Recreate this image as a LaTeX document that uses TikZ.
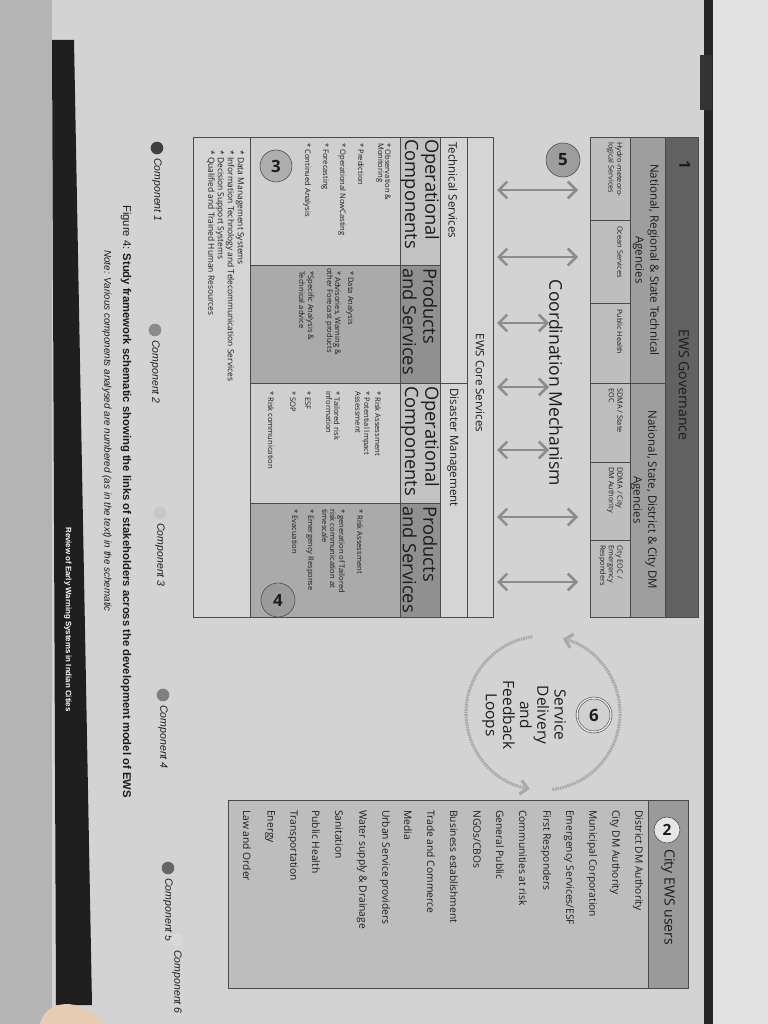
\documentclass[tikz,border=0pt]{standalone}
\usepackage{fontspec}
\setmainfont{Open Sans}
\newfontfamily\capfont{Liberation Sans}
\usetikzlibrary{arrows.meta}
\definecolor{pagec}{HTML}{D3D3D3}
\definecolor{leftc}{HTML}{B4B4B4}
\definecolor{rightc}{HTML}{E2E2E2}
\definecolor{govc}{HTML}{626262}
\definecolor{bandb}{HTML}{9E9E9E}
\definecolor{bandc}{HTML}{BEBEBE}
\definecolor{opc}{HTML}{C2C2C2}
\definecolor{prc}{HTML}{909090}
\definecolor{cellop}{HTML}{CFCFCF}
\definecolor{cellpr}{HTML}{AAAAAA}
\definecolor{arrc}{HTML}{8C8C8C}
\definecolor{linec}{HTML}{4A4A4A}
\definecolor{txt}{HTML}{1C1C1C}
\definecolor{userh}{HTML}{9A9A9A}
\definecolor{userb}{HTML}{BDBDBD}
\definecolor{loopc}{HTML}{A8A8A8}
\tikzset{
  lbl/.style={rotate=-90, inner sep=0pt, text=txt},
  bd/.style={draw=linec, line width=0.5pt},
  arr/.style={draw=arrc, line width=1.8pt, {Straight Barb[length=6pt,width=12pt]}-{Straight Barb[length=6pt,width=12pt]}},
  numc/.style={circle, draw=linec, line width=0.4pt, inner sep=0pt, text=txt, font=\fontsize{12}{12}\selectfont\bfseries},
  item/.style={lbl, anchor=west, font=\fontsize{5.4}{6}\selectfont},
  user/.style={lbl, anchor=west, font=\fontsize{7.3}{8}\selectfont},
  head/.style={lbl, anchor=west, align=left, font=\fontsize{13}{14.5}\selectfont},
  sub/.style={lbl, anchor=north west, align=left, font=\fontsize{5.2}{6}\selectfont},
  legc/.style={circle, inner sep=0pt, minimum size=9pt},
  legt/.style={lbl, anchor=west, font=\capfont\fontsize{7.5}{8}\selectfont\itshape},
  loop/.style={draw=loopc, line width=2.2pt, dash pattern=on 1.2pt off 0.6pt, -{Straight Barb[length=5pt,width=10pt]}}
}
\begin{document}
\begin{tikzpicture}[x=0.025cm, y=-0.025cm]
\useasboundingbox (0,0) rectangle (768,1024);
% photo background
\fill[leftc] (0,0) rectangle (52,1024);
\fill[pagec] (52,0) rectangle (706,1024);
\fill[rightc] (713,0) rectangle (768,1024);
\fill[black!85] (704,0) rectangle (713,1024);
\fill[black!80] (700,55) rectangle (712,110);
\fill[black!88] (52,40) -- (74,40) -- (92,1005) -- (56,1005) -- cycle;
\node[lbl, anchor=east, text=white, font=\capfont\fontsize{5.6}{7}\selectfont\bfseries] (runhead) at (68,712) {Review of Early Warning Systems in Indian Cities};
\fill[brown!40!white] (40,1024) .. controls (45,1000) and (80,995) .. (105,1024) -- cycle;

% ---------- component 1 : governance ----------
\fill[govc] (665,137) rectangle (698,617);
\draw[bd] (665,137) rectangle (698,617);
\fill[bandb] (630,137) rectangle (665,617);
\draw[bd] (630,137) rectangle (665,383);
\draw[bd] (630,383) rectangle (665,617);
\fill[bandc] (590,137) rectangle (630,617);
\draw[bd] (590,137) rectangle (630,220);
\draw[bd] (590,220) rectangle (630,303);
\draw[bd] (590,303) rectangle (630,383);
\draw[bd] (590,383) rectangle (630,462);
\draw[bd] (590,462) rectangle (630,540);
\draw[bd] (590,540) rectangle (630,617);
\node[lbl, font=\fontsize{11}{12}\selectfont\bfseries] (one) at (685,165) {1};
\node[lbl, font=\fontsize{10}{12}\selectfont] (gov) at (684,385) {EWS Governance};
\node[lbl, align=center, font=\fontsize{8.2}{10.5}\selectfont] (natA) at (646,260) {National, Regional \& State Technical\\Agencies};
\node[lbl, align=center, font=\fontsize{8.2}{10.5}\selectfont] (natB) at (644,500) {National, State, District \& City DM\\Agencies};
\node[sub] (hydro) at (623,142) {Hydro-meteoro-\\logical Services};
\node[sub] (ocean) at (623,226) {Ocean Services};
\node[sub] (pubh) at (623,309) {Public Health};
\node[sub] (sdma) at (623,388) {SDMA / State\\EOC};
\node[sub] (ddma) at (623,467) {DDMA / City\\DM Authority};
\node[sub] (cityeoc) at (623,545) {City EOC /\\Emergency\\Responders};

% ---------- component 5 : coordination ----------
\node[numc, fill=arrc!85, minimum size=34*0.025cm] (five) at (563,160) {5};
\node[lbl, font=\fontsize{12.5}{14}\selectfont] (coord) at (556,383) {Coordination Mechanism};
\foreach \i/\y/\t in {1/190/578, 2/257/578, 3/323/549, 4/387/549, 5/450/549, 6/517/578, 7/582/578}{
  \coordinate (at\i) at (\t,\y);
  \coordinate (ab\i) at (497,\y);
  \draw[arr] (ab\i) -- (at\i);
}

% ---------- component 3 / 4 : core services ----------
\fill[pagec!96!white] (193,137) rectangle (493,617);
\fill[opc] (400,137) rectangle (440,265);
\fill[prc] (400,265) rectangle (440,383);
\fill[opc] (400,383) rectangle (440,503);
\fill[prc] (400,503) rectangle (440,617);
\fill[cellop] (250,137) rectangle (400,265);
\fill[cellpr] (250,265) rectangle (400,383);
\fill[cellop] (250,383) rectangle (400,503);
\fill[cellpr] (250,503) rectangle (400,617);
\draw[bd] (193,137) rectangle (493,617);
\draw[bd] (467,137) -- (467,617);
\draw[bd] (440,137) -- (440,617);
\draw[bd] (440,383) -- (467,383);
\draw[bd] (400,137) -- (400,617);
\draw[bd] (250,137) -- (250,617);
\draw[bd] (250,265) -- (440,265);
\draw[bd] (250,383) -- (440,383);
\draw[bd] (250,503) -- (440,503);
\node[lbl, font=\fontsize{8.2}{10}\selectfont] (core) at (480,383) {EWS Core Services};
\node[lbl, anchor=west, font=\fontsize{8.2}{10}\selectfont] (techs) at (453,142) {Technical Services};
\node[lbl, anchor=west, font=\fontsize{8.2}{10}\selectfont] (dism) at (453,388) {Disaster Management};
\node[head] (h1) at (420,139) {Operational\\Components};
\node[head] (h2) at (420,268) {Products\\and Services};
\node[head] (h3) at (420,386) {Operational\\Components};
\node[head] (h4) at (420,506) {Products\\and Services};
% technical services - operational components
\node[item] (t1) at (388,143) {* Observation \&};
\node[item] (t1b) at (380,143) {Monitoring};
\node[item] (t2) at (361,143) {* Prediction};
\node[item] (t3) at (342,143) {* Operational NowCasting};
\node[item] (t4) at (325,143) {* Forecasting};
\node[item] (t5) at (307,143) {* Continued Analysis};
\node[numc, fill=cellpr!95, minimum size=32*0.025cm] (three) at (276,166) {3};
% technical services - products
\node[item] (p1) at (350,271) {* Data Analysis};
\node[item] (p2) at (337,271) {* Advisories, Warning \&};
\node[item] (p2b) at (329,268) {other Forecast products};
\node[item] (p3) at (310,271) {*Specific Analysis \&};
\node[item] (p3b) at (302,271) {Technical advice};
% disaster management - operational components
\node[item] (d1) at (378,391) {* Risk Assessment};
\node[item] (d2) at (366,391) {* Potential Impact};
\node[item] (d2b) at (358,391) {Assessment};
\node[item] (d3) at (337,391) {* Tailored risk};
\node[item] (d3b) at (329,391) {information};
\node[item] (d4) at (308,391) {* ESF};
\node[item] (d5) at (293,391) {* SOP};
\node[item] (d6) at (271,391) {* Risk communication};
% disaster management - products
\node[item] (q1) at (360,509) {* Risk Assessment};
\node[item] (q2) at (341,509) {* generation of Tailored};
\node[item] (q2b) at (333,509) {risk communication at};
\node[item] (q2c) at (325,509) {timescale};
\node[item] (q3) at (310,509) {* Emergency Response};
\node[item] (q4) at (295,509) {* Evacuation};
\node[numc, fill=prc!90, minimum size=34*0.025cm] (four) at (278,600) {4};
% systems strip
\node[item, font=\fontsize{6}{7}\selectfont] (s1) at (240,150) {* Data Management Systems};
\node[item, font=\fontsize{6}{7}\selectfont] (s2) at (230,150) {* Information Technology and Telecommunication Services};
\node[item, font=\fontsize{6}{7}\selectfont] (s3) at (220,150) {* Decision Support Systems};
\node[item, font=\fontsize{6}{7}\selectfont] (s4) at (211,150) {* Qualified and Trained Human Resources};

% ---------- component 6 : loops ----------
\draw[loop] (543,713) ++(83:77) arc[start angle=83, end angle=-75, radius=77];
\draw[loop] (543,713) ++(262:77) arc[start angle=262, end angle=100, radius=77];
\node[numc, fill=bandc!70!white, minimum size=34*0.025cm, double=bandc!40!white, double distance=1pt] (six) at (594,715) {6};
\node[lbl, align=center, font=\fontsize{11}{12.2}\selectfont] (loops) at (524,715) {Service\\Delivery\\and\\Feedback\\Loops};

% ---------- component 2 : city EWS users ----------
\fill[userb] (228,800) rectangle (648,988);
\fill[userh] (648,800) rectangle (688,988);
\draw[bd] (228,800) rectangle (688,988);
\draw[bd] (648,800) -- (648,988);
\node[numc, fill=pagec!60!white, minimum size=26*0.025cm, font=\fontsize{11}{11}\selectfont\bfseries] (two) at (667,830) {2};
\node[lbl, anchor=west, font=\fontsize{10}{11}\selectfont] (usershead) at (668,849) {City EWS users};
\foreach \n/\x/\t in {u1/638/{District DM Authority}, u2/615/{City DM Authority}, u3/592/{Municipal Corporation}, u4/569/{Emergency Services/ESF}, u5/546/{First Responders}, u6/523/{Communities at risk}, u7/500/{General Public}, u8/477/{NGOs/CBOs}, u9/454/{Business establishment}, u10/431/{Trade and Commerce}, u11/408/{Media}, u12/385/{Urban Service providers}, u13/362/{Water supply \& Drainage}, u14/339/{Sanitation}, u15/316/{Public Health}, u16/293/{Transportation}, u17/270/{Energy}, u18/247/{Law and Order}}{
  \node[user] (\n) at (\x,810) {\t};
}

% ---------- legend ----------
\node[legc, fill=black!75] (l1) at (157,148) {};
\node[legt] (lt1) at (157,158) {Component 1};
\node[legc, fill=black!45] (l2) at (155,330) {};
\node[legt] (lt2) at (155,340) {Component 2};
\node[legc, fill=black!22] (l3) at (160,513) {};
\node[legt] (lt3) at (160,523) {Component 3};
\node[legc, fill=black!50] (l4) at (163,695) {};
\node[legt] (lt4) at (163,705) {Component 4};
\node[legc, fill=black!60] (l5) at (168,868) {};
\node[legt] (lt5) at (168,878) {Component 5};
\node[legc, fill=black!15] (l6) at (177,940) {};
\node[legt] (lt6) at (177,950) {Component 6};

% ---------- caption ----------
\node[lbl, anchor=west, font=\capfont\fontsize{8}{9}\selectfont] (cap) at (126,205) {Figure 4: \textbf{Study framework schematic showing the links of stakeholders across the development model of EWS}};
\node[lbl, anchor=west, font=\capfont\fontsize{7}{8}\selectfont\itshape] (note) at (107,250) {Note: Various components analysed are numbered (as in the text) in the schematic};
\end{tikzpicture}
\end{document}
